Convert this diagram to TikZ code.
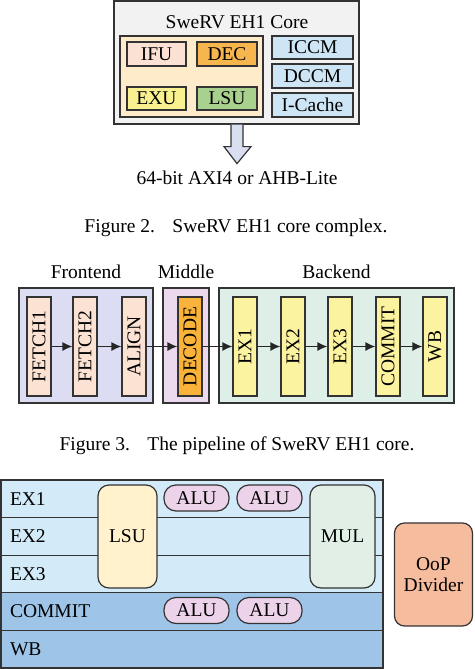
\documentclass[tikz,border=0pt]{standalone}
\usepackage{fontspec}
\setmainfont{Liberation Serif}
\usetikzlibrary{arrows.meta,shapes,positioning,calc}
\definecolor{corebg}{HTML}{F2F2F2}
\definecolor{unitbg}{HTML}{FDEBCA}
\definecolor{ifubg}{HTML}{FBE0D4}
\definecolor{decbg}{HTML}{F7B54D}
\definecolor{exubg}{HTML}{F9F190}
\definecolor{lsubg}{HTML}{A9D18E}
\definecolor{membg}{HTML}{CDE5F5}
\definecolor{arrowbg}{HTML}{D9DFF0}
\definecolor{frontbg}{HTML}{DCDDF2}
\definecolor{midbg}{HTML}{EDD9EE}
\definecolor{backbg}{HTML}{DDEFE7}
\definecolor{fetchbg}{HTML}{FBE2D3}
\definecolor{decodebg}{HTML}{F9B23A}
\definecolor{exbg}{HTML}{FBF3A0}
\definecolor{lanelt}{HTML}{D3EAF9}
\definecolor{lanedk}{HTML}{9EC5E8}
\definecolor{lsuunit}{HTML}{FFF2CC}
\definecolor{mulunit}{HTML}{E1EFE6}
\definecolor{alubg}{HTML}{EDD3EA}
\definecolor{oopbg}{HTML}{F6BC9E}

\begin{document}
\begin{tikzpicture}[x=1pt, y=-1pt, >={Latex[length=10pt,width=9pt]},
    font=\fontsize{19.5}{21}\selectfont,
    box/.style={rectangle, draw=black!80, line width=1.2pt, inner sep=0pt},
    stage/.style={box, rotate=90, minimum width=99pt, minimum height=24pt},
    lane/.style={box, minimum height=37.6pt, text width=364pt, inner xsep=9pt, align=left},
    pill/.style={box, rounded corners=12pt, minimum width=65pt, minimum height=26pt, fill=alubg}]
      \useasboundingbox (0,0) rectangle (474,669);

      % Core complex
      \node[box, fill=corebg, minimum width=245pt, minimum height=123pt] (core) at (236.5,62.5) {};
      \node (title) at (237,22) {SweRV EH1 Core};
      \node[box, fill=unitbg, minimum width=143pt, minimum height=81pt] (units) at (191.5,76.5) {};
      \node[box, fill=ifubg, minimum width=59pt, minimum height=24pt] (ifu) at (156.5,54) {IFU};
      \node[box, fill=decbg, minimum width=60pt, minimum height=24pt] (dec) at (227,54) {DEC};
      \node[box, fill=exubg, minimum width=59pt, minimum height=23pt] (exu) at (156.5,98.5) {EXU};
      \node[box, fill=lsubg, minimum width=60pt, minimum height=23pt] (lsu) at (227,98.5) {LSU};
      \node[box, fill=membg, minimum width=81pt, minimum height=23pt] (iccm) at (312.5,47.5) {ICCM};
      \node[box, fill=membg, minimum width=81pt, minimum height=24pt] (dccm) at (312.5,76) {DCCM};
      \node[box, fill=membg, minimum width=81pt, minimum height=24pt] (icache) at (312.5,105) {I-Cache};

      % Bus
      \node (bus) at (237,178) {64-bit AXI4 or AHB-Lite};
      \draw[draw=black!80, line width=1.2pt, fill=arrowbg, line join=miter]
        ($(core.south)+(-5.5,0)$) -- ++(0,22) -- ++(-7,0) -- ($(core.south)+(0.5,39)$)
        -- ($(core.south)+(14.5,22)$) -- ++(-8,0) -- ++(0,-22);

      \node (cap2) at (236,228) {Figure 2.\hspace{0.9em}SweRV EH1 core complex.};

      % Pipeline groups
      \node[box, fill=frontbg, minimum width=134pt, minimum height=115pt] (front) at (86,345.5) {};
      \node[box, fill=midbg, minimum width=46pt, minimum height=115pt] (mid) at (186,345.5) {};
      \node[box, fill=backbg, minimum width=235pt, minimum height=115pt] (back) at (336.5,345.5) {};
      \node[above=5pt of front] (frontlbl) {Frontend};
      \node[above=5pt of mid] (midlbl) {Middle};
      \node[above=5pt of back] (backlbl) {Backend};

      % Stages
      \foreach \name/\xx/\col [count=\i] in {FETCH1/39/fetchbg, FETCH2/85/fetchbg, ALIGN/134/fetchbg,
          DECODE/190/decodebg, EX1/245/exbg, EX2/293/exbg, EX3/340/exbg, COMMIT/388/exbg, WB/435/exbg}
        \node[stage, fill=\col] (s\i) at (\xx,346.5) {\name};
      \foreach \i [evaluate=\i as \j using int(\i+1)] in {1,...,8}
        \draw[->, line width=1.3pt, black!85] (s\i) -- (s\j);

      \node (cap3) at (237,446) {Figure 3.\hspace{0.9em}The pipeline of SweRV EH1 core.};

      % Execution lanes
      \foreach \name/\col [count=\i] in {EX1/lanelt, EX2/lanelt, EX3/lanelt, COMMIT/lanedk, WB/lanedk}
        \node[lane, fill=\col] (r\i) at (192,{480+18.8+(\i-1)*37.6}) {\name};

      \node[box, fill=lsuunit, rounded corners=11pt, minimum width=59pt, minimum height=103pt] (lsu3) at (127.5,536.5) {LSU};
      \node[box, fill=mulunit, rounded corners=11pt, minimum width=65pt, minimum height=103pt] (mul) at (342.5,536.5) {MUL};
      \node[pill] (alu1) at (196.5,498) {ALU};
      \node[pill] (alu2) at (269.5,498) {ALU};
      \node[pill] (alu3) at (196.5,610.5) {ALU};
      \node[pill] (alu4) at (269.5,610.5) {ALU};

      % Divider
      \node[box, fill=oopbg, rounded corners=10pt, minimum width=78pt, minimum height=103pt, align=center] (div) at (433.5,574.5) {OoP\\Divider};

    \end{tikzpicture}
\end{document}
